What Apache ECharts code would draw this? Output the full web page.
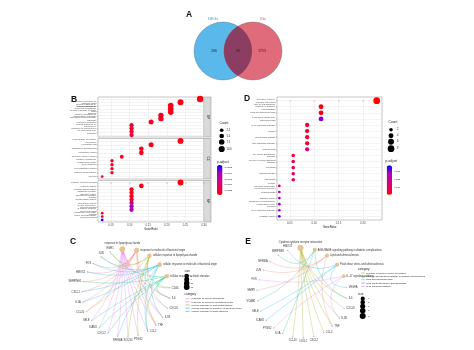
<!DOCTYPE html>
<html>
<head>
<meta charset="utf-8">
<script src="https://cdn.jsdelivr.net/npm/echarts@6/dist/echarts.min.js"></script>
<style>
  html, body { margin: 0; padding: 0; background: #fff; }
  #main { position: absolute; left: 0; top: 0; width: 474px; height: 350px; }
  #venn { position: absolute; left: 0; top: 0; width: 474px; height: 350px; pointer-events: none; }
</style>
</head>
<body>
<div id="main"></div>
<div id="venn"></div>
<script>
// ---------- A: venn ----------
const vennSets = ['DEGs', 'IGs'];
const vennOnly = [206, 1753];
const vennShared = 46;

// ---------- B: GO enrichment (GeneRatio = count / goTotal) ----------
const goTotal = 38;
const bpTerms = ['response to lipopolysaccharide', 'response to molecule of bacterial origin',
  'cellular response to lipopolysaccharide', 'cellular response to molecule of bacterial origin',
  'cellular response to biotic stimulus', 'positive regulation of inflammatory response',
  'regulation of inflammatory response', 'leukocyte migration', 'cellular response to interleukin-1',
  'response to interleukin-1', 'myeloid leukocyte migration', 'regulation of cell-cell adhesion'];
const bpCount = [11, 9, 8, 8, 8, 7, 7, 6, 4, 4, 4, 4];
const bpPadj = [0.0010, 0.0012, 0.0013, 0.0014, 0.0015, 0.0016, 0.0017, 0.0018, 0.0020, 0.0021, 0.0022, 0.0023];
const ccTerms = ['external side of plasma membrane', 'membrane raft', 'membrane microdomain',
  'membrane region', 'secretory granule lumen', 'collagen-containing extracellular matrix',
  'focal adhesion', 'cell-substrate junction', 'platelet alpha granule', 'caveola'];
const ccCount = [9, 6, 5, 5, 3, 2, 2, 2, 2, 1];
const ccPadj = [0.0010, 0.0012, 0.0014, 0.0015, 0.0017, 0.0019, 0.0020, 0.0021, 0.0022, 0.0030];
const mfTerms = ['cytokine receptor binding', 'cytokine activity', 'receptor ligand activity',
  'signaling receptor activator activity', 'chemokine receptor binding', 'growth factor activity',
  'chemokine activity', 'CXCR chemokine receptor binding', 'G protein-coupled receptor binding',
  'interleukin-1 receptor binding', 'tumor necrosis factor receptor binding', 'heparin binding'];
const mfCount = [9, 5, 4, 4, 4, 4, 4, 4, 4, 1, 1, 1];
const mfPadj = [0.0010, 0.0013, 0.0015, 0.0016, 0.0017, 0.0018, 0.0088, 0.0090, 0.0092, 0.0020, 0.0022, 0.0128];
const goTicks = [0.05, 0.10, 0.15, 0.20, 0.25, 0.30];
const goCountLegend = [2.5, 5.0, 7.5, 10.0];
const goPadjLegend = [0.0125, 0.0100, 0.0075, 0.0050, 0.0025];

// ---------- D: KEGG enrichment ----------
const keggTotal = 35;
const keggTerms = ['Cytokine-cytokine receptor interaction', 'AGE-RAGE signaling pathway in diabetic complications',
  'Lipid and atherosclerosis', 'Fluid shear stress and atherosclerosis', 'IL-17 signaling pathway', 'Malaria',
  'Rheumatoid arthritis', 'TNF signaling pathway', 'Legionellosis', 'NF-kappa B signaling pathway',
  'Toll-like receptor signaling pathway', 'Pertussis', 'Chagas disease', 'Amoebiasis',
  'Kaposi sarcoma-associated herpesvirus infection', 'Leishmaniasis', 'Bladder cancer',
  'Epithelial cell signaling in Helicobacter pylori infection', 'HIF-1 signaling pathway', 'Prostate cancer'];
const keggCount = [8, 4, 4, 4, 3, 3, 3, 3, 3, 2, 2, 2, 2, 2, 1, 1, 1, 1, 1, 1];
const keggPadj = [0.0012, 0.0024, 0.0026, 0.0300, 0.0042, 0.0045, 0.0050, 0.0058, 0.0153, 0.0060, 0.0080,
  0.0115, 0.0120, 0.0130, 0.0170, 0.0209, 0.0270, 0.0275, 0.0280, 0.0340];
const keggTicks = [0.05, 0.10, 0.15, 0.20];
const keggCountLegend = [2, 4, 6, 8];
const keggPadjLegend = [0.030, 0.020, 0.010];

// ---------- C: gene-concept network (GO) ----------
const genesC = ['IL6', 'CXCL8', 'IL1B', 'TNF', 'CCL2', 'PTGS2', 'SOCS3', 'NFKBIA', 'CXCL2', 'ICAM1',
  'SELE', 'CCL20', 'IL1A', 'CXCL1', 'SERPINE1', 'HMOX1', 'FOS', 'JUN', 'EGR1', 'CD44'];
const termsC = bpTerms.slice(0, 5);
const countC = bpCount.slice(0, 5);
const setsC = [
  ['IL6', 'CXCL8', 'IL1B', 'TNF', 'CCL2', 'PTGS2', 'SOCS3', 'NFKBIA', 'CXCL2', 'ICAM1', 'SELE'],
  ['IL6', 'IL1B', 'TNF', 'CCL20', 'IL1A', 'CXCL1', 'SERPINE1', 'HMOX1', 'FOS'],
  ['CXCL8', 'TNF', 'PTGS2', 'JUN', 'EGR1', 'CD44', 'CCL20', 'SOCS3'],
  ['IL1B', 'CCL2', 'NFKBIA', 'IL1A', 'FOS', 'JUN', 'CXCL1', 'HMOX1'],
  ['IL6', 'CXCL2', 'ICAM1', 'SELE', 'SERPINE1', 'EGR1', 'CD44', 'CCL2']
];
const sizeLegendC = [8, 9, 10, 11];

// ---------- E: gene-concept network (KEGG) ----------
const genesE = ['IL6', 'CXCL8', 'IL1B', 'TNF', 'CCL2', 'CXCL2', 'CXCL1', 'CCL20', 'IL1A', 'PTGS2',
  'ICAM1', 'SELE', 'VCAM1', 'MMP9', 'FOS', 'JUN', 'NFKBIA', 'SERPINE1', 'HMOX1', 'VEGFA'];
const termsE = keggTerms.slice(0, 5);
const countE = keggCount.slice(0, 5);
const setsE = [
  ['IL6', 'CXCL8', 'IL1B', 'TNF', 'CCL2', 'CXCL2', 'CXCL1', 'CCL20'],
  ['IL6', 'IL1A', 'SERPINE1', 'VCAM1'],
  ['TNF', 'MMP9', 'JUN', 'NFKBIA'],
  ['ICAM1', 'SELE', 'HMOX1', 'VEGFA'],
  ['PTGS2', 'FOS', 'IL1B']
];
const sizeLegendE = [4, 5, 6, 7, 8];

// ---------- styles ----------
const FONT = 'Liberation Sans, Arial, sans-serif';
const TXT = '#4d4d4d';
const hue5 = ['#E76BF3', '#F8766D', '#A3A500', '#00B0F6', '#00BF7D'];
const hue5E = ['#A3A500', '#00BF7D', '#F8766D', '#00B0F6', '#E76BF3'];
const padjColors = ['#ff0000', '#e7005c', '#c9008f', '#a100c6', '#0000ff'];
const goSize = c => 1.1 + 1.6 * Math.sqrt(c);
const keggSize = c => 0.5 + 2.19 * Math.sqrt(c);
const cnetSizeC = c => 1.6 + 0.38 * c;
const cnetSizeE = c => 2.4 + 0.45 * c;

// ================= panels B-E =================
const chart = echarts.init(document.getElementById('main'));

function ratioAxis(gi, min, max, ticks, show, name) {
  return {
    type: 'value', gridIndex: gi, min: min, max: max,
    axisLine: { show: false },
    axisTick: { show: show, length: 1.2, lineStyle: { color: '#555', width: 0.4 }, customValues: ticks },
    axisLabel: { show: show, fontSize: 2.8, color: TXT, margin: 1.5, fontFamily: FONT,
      customValues: ticks, formatter: v => v.toFixed(2) },
    splitLine: { show: true, lineStyle: { color: '#e6e6e6', width: 0.5 } },
    name: name || '', nameLocation: 'middle', nameGap: 5.5,
    nameTextStyle: { fontSize: 2.8, color: '#222', fontFamily: FONT }
  };
}

function termAxis(gi, terms) {
  const idx = terms.map((t, i) => i);
  return {
    type: 'value', gridIndex: gi, inverse: true, min: -0.6, max: terms.length - 0.4,
    axisLine: { show: false },
    axisTick: { show: true, length: 1, lineStyle: { color: '#555', width: 0.4 }, customValues: idx },
    axisLabel: { show: true, fontSize: 2.3, lineHeight: 2.5, color: TXT, margin: 1.5, width: 27,
      overflow: 'break', fontFamily: FONT, customValues: idx, formatter: v => terms[v] || '' },
    splitLine: { show: true, lineStyle: { color: '#e6e6e6', width: 0.5 } }
  };
}

function dotSeries(ai, counts, padj, total, sizeFn) {
  return {
    type: 'scatter', xAxisIndex: ai, yAxisIndex: ai, silent: true,
    data: counts.map((c, i) => [c / total, i, c, padj[i]]),
    symbolSize: v => sizeFn(v[2]),
    itemStyle: { opacity: 1 }
  };
}

function cnetNodes(genes, terms, counts, sizeFn) {
  // genes round the ring, the terms sit near the upper right
  const ring = genes.slice(0, genes.length - 1).concat(terms, genes.slice(genes.length - 1));
  const n = ring.length;
  return ring.map((name, i) => {
    const a = (i + 0.5) / n * Math.PI * 2;
    const cx = Math.cos(a), sy = Math.sin(a);
    let pos = cx > 0.35 ? 'right' : cx < -0.35 ? 'left' : (sy > 0 ? 'bottom' : 'top');
    const ti = terms.indexOf(name);
    if (ti >= 0) {
      return { name: name, symbolSize: sizeFn(counts[ti]), itemStyle: { color: '#E5C494' },
        label: { position: pos === 'top' ? 'top' : 'right', distance: 1 } };
    }
    return { name: name, symbolSize: 1.3, itemStyle: { color: '#B3B3B3' }, label: { position: pos, distance: 1.5 } };
  });
}

function cnetLinks(terms, sets, colors) {
  const out = [];
  sets.forEach((gs, ti) => gs.forEach(g => out.push({ source: terms[ti], target: g, lineStyle: { color: colors[ti] } })));
  return out;
}

function cnetSeries(box, genes, terms, counts, sets, colors, sizeFn) {
  return {
    type: 'graph', layout: 'circular', silent: true, roam: false,
    left: box[0], top: box[1], width: box[2], height: box[3],
    circular: { rotateLabel: false },
    data: cnetNodes(genes, terms, counts, sizeFn),
    links: cnetLinks(terms, sets, colors),
    label: { show: true, fontSize: 2.6, color: '#333', fontFamily: FONT },
    lineStyle: { width: 0.5, opacity: 0.55, curveness: 0.18 },
    emphasis: { disabled: true }
  };
}

// ---------- legends and decorations ----------
const deco = [];
function t(x, y, s, opt) {
  deco.push(Object.assign({ type: 'text', x: x, y: y, silent: true,
    style: Object.assign({ text: s, fontSize: 3, fill: '#222', fontFamily: FONT, verticalAlign: 'middle' }, opt || {}) }));
}
[['A', 189, 15], ['B', 74, 100], ['D', 247, 99], ['C', 73, 242], ['E', 248, 242]].forEach(p =>
  t(p[1], p[2], p[0], { fontSize: 8.5, fontWeight: 'bold', fill: '#111', align: 'center' }));
// venn set names
t(213, 19, vennSets[0], { fontSize: 4, fill: '#3d9fd6', align: 'center' });
t(263, 19, vennSets[1], { fontSize: 4, fill: '#d9596c', align: 'center' });

// facet strips of B
[[97, 40, 'BP'], [138.5, 40.5, 'CC'], [180.5, 41.5, 'MF']].forEach(s => {
  deco.push({ type: 'rect', silent: true, shape: { x: 204, y: s[0], width: 7, height: s[1] },
    style: { fill: '#d9d9d9', stroke: '#8c8c8c', lineWidth: 0.5 } });
  deco.push({ type: 'text', silent: true, x: 207.5, y: s[0] + s[1] / 2, rotation: -Math.PI / 2,
    style: { text: s[2], fontSize: 3, fill: '#1a1a1a', fontFamily: FONT, align: 'center', verticalAlign: 'middle' } });
});

// B legend
t(219.5, 123, 'Count', { fontSize: 3.3 });
goCountLegend.forEach((v, i) => {
  const y = [130.3, 136, 142, 149][i];
  deco.push({ type: 'circle', silent: true, shape: { cx: 221.7, cy: y, r: goSize(v) / 2 }, style: { fill: '#000' } });
  t(226.5, y, v.toFixed(1), { fontSize: 2.6 });
});
t(217, 161.7, 'p.adjust', { fontSize: 3.3 });
const bMin = 0.0005, bMax = 0.0135;
goPadjLegend.forEach(v => t(224.5, 165 + (bMax - v) / (bMax - bMin) * 30, v.toFixed(4), { fontSize: 2.5 }));

// D legend
t(388.5, 122.3, 'Count', { fontSize: 3.3 });
keggCountLegend.forEach((v, i) => {
  const y = [129.7, 135.7, 141.7, 148.7][i];
  deco.push({ type: 'circle', silent: true, shape: { cx: 391, cy: y, r: keggSize(v) / 2 }, style: { fill: '#000' } });
  t(397, y, String(v), { fontSize: 2.6 });
});
t(385.5, 161.3, 'p.adjust', { fontSize: 3.3 });
const dMin = 0.0005, dMax = 0.0375;
keggPadjLegend.forEach(v => t(394, 165.3 + (dMax - v) / (dMax - dMin) * 29.5, v.toFixed(3), { fontSize: 2.5 }));

// C legend
t(184.5, 271, 'size', { fontSize: 3 });
sizeLegendC.forEach((v, i) => {
  const y = [276, 279.5, 283.2, 287][i];
  deco.push({ type: 'circle', silent: true, shape: { cx: 186.7, cy: y, r: cnetSizeC(v) / 2 }, style: { fill: '#000' } });
  t(190.5, y, String(v), { fontSize: 2.4 });
});
t(184.5, 294.3, 'category', { fontSize: 3 });
termsC.forEach((s, i) => {
  const y = 298.7 + i * 3.15;
  deco.push({ type: 'line', silent: true, shape: { x1: 185.5, y1: y, x2: 189.5, y2: y }, style: { stroke: hue5[i], lineWidth: 0.6 } });
  t(191.5, y, s, { fontSize: 2.4 });
});

// E legend
t(358, 268.7, 'category', { fontSize: 3 });
termsE.forEach((s, i) => {
  const y = 273 + i * 3.35;
  deco.push({ type: 'line', silent: true, shape: { x1: 361.3, y1: y, x2: 364.7, y2: y }, style: { stroke: hue5E[i], lineWidth: 0.6 } });
  t(366, y, s, { fontSize: 2.4 });
});
t(358, 294.3, 'size', { fontSize: 3 });
sizeLegendE.forEach((v, i) => {
  const y = [298.7, 302.2, 306.2, 310.7, 316][i];
  deco.push({ type: 'circle', silent: true, shape: { cx: 362.7, cy: y, r: cnetSizeE(v) / 2 }, style: { fill: '#000' } });
  t(368, y, String(v), { fontSize: 2.4 });
});

const facetGrid = (top, height) => ({ left: 98, top: top, width: 106, height: height, show: true,
  borderColor: '#8c8c8c', borderWidth: 0.5, backgroundColor: '#fff' });

chart.setOption({
  animation: false,
  backgroundColor: '#fff',
  textStyle: { fontFamily: FONT },
  grid: [
    facetGrid(97, 40), facetGrid(138.5, 40.5), facetGrid(180.5, 41.5),
    { left: 277, top: 97, width: 105, height: 123, show: true, borderColor: '#8c8c8c', borderWidth: 0.5, backgroundColor: '#fff' }
  ],
  xAxis: [
    ratioAxis(0, 0.015, 0.30, goTicks, false),
    ratioAxis(1, 0.015, 0.30, goTicks, false),
    ratioAxis(2, 0.015, 0.30, goTicks, true, 'GeneRatio'),
    ratioAxis(3, 0.0238, 0.2394, keggTicks, true, 'GeneRatio')
  ],
  yAxis: [termAxis(0, bpTerms), termAxis(1, ccTerms), termAxis(2, mfTerms), termAxis(3, keggTerms)],
  visualMap: [
    { type: 'continuous', seriesIndex: [0, 1, 2], dimension: 3, min: bMin, max: bMax,
      inRange: { color: padjColors }, left: 217, top: 165, itemWidth: 5.5, itemHeight: 30,
      calculable: false, padding: 0, text: null, textStyle: { fontSize: 1, color: 'transparent' } },
    { type: 'continuous', seriesIndex: [3], dimension: 3, min: dMin, max: dMax,
      inRange: { color: padjColors }, left: 386.7, top: 165.3, itemWidth: 5.3, itemHeight: 29.5,
      calculable: false, padding: 0, text: null, textStyle: { fontSize: 1, color: 'transparent' } }
  ],
  series: [
    dotSeries(0, bpCount, bpPadj, goTotal, goSize),
    dotSeries(1, ccCount, ccPadj, goTotal, goSize),
    dotSeries(2, mfCount, mfPadj, goTotal, goSize),
    dotSeries(3, keggCount, keggPadj, keggTotal, keggSize),
    cnetSeries([82, 249, 88, 88], genesC, termsC, countC, setsC, hue5, cnetSizeC),
    cnetSeries([257, 248, 90, 90], genesE, termsE, countE, setsE, hue5E, cnetSizeE)
  ],
  graphic: deco
});

// ================= venn (own overlay chart, drawn last) =================
const VENN = { cx: [53, 83], cy: 41, r: 29 };
const vtxt = (x, y, s, size, color) => ({ type: 'text', z2: 50, style: { x: x, y: y, text: s, fontSize: size,
  fill: color, fontFamily: FONT, align: 'center', verticalAlign: 'middle' } });

const vennCircles = {
  type: 'custom', xAxisIndex: 0, yAxisIndex: 0, silent: true, clip: false, z: 2,
  data: [[0, vennOnly[0]], [1, vennOnly[1]]],
  renderItem: function (params, api) {
    const k = params.dataIndex;
    const c = api.coord([VENN.cx[k], VENN.cy]);
    const r = api.size([VENN.r, 0])[0];
    const fill = k === 0 ? '#5bb8ea' : '#e06c7b';
    const dx = k === 0 ? -9 : 9;
    return { type: 'group', children: [
      { type: 'circle', shape: { cx: c[0], cy: c[1], r: r }, style: { fill: fill, stroke: 'rgba(60,60,60,0.55)', lineWidth: 0.5 } },
      vtxt(c[0] + dx, c[1] + 0.5, String(api.value(1)), 3.4, '#222')
    ] };
  }
};
const vennLens = {
  type: 'custom', xAxisIndex: 0, yAxisIndex: 0, silent: true, clip: false, z: 5,
  data: [[1, vennShared]],
  renderItem: function (params, api) {
    const c0 = api.coord([VENN.cx[0], VENN.cy]);
    const c1 = api.coord([VENN.cx[1], VENN.cy]);
    const r = api.size([VENN.r, 0])[0];
    const d = c1[0] - c0[0];
    const al = Math.acos(d / 2 / r);
    const pts = [];
    for (let i = 0; i <= 30; i++) { const a = -al + 2 * al * i / 30; pts.push([c0[0] + r * Math.cos(a), c0[1] + r * Math.sin(a)]); }
    for (let i = 0; i <= 30; i++) { const a = Math.PI - al + 2 * al * i / 30; pts.push([c1[0] + r * Math.cos(a), c1[1] + r * Math.sin(a)]); }
    const mx = (c0[0] + c1[0]) / 2;
    return { type: 'group', children: [
      { type: 'polygon', shape: { points: pts }, style: { fill: '#8c3d62' } },
      { type: 'rect', shape: { x: 0, y: 0, width: 1, height: 1 }, style: { fill: '#ffffff' } },
      vtxt(mx, c0[1] + 0.5, String(api.value(1)), 3.4, '#222')
    ] };
  }
};
const vennChart = echarts.init(document.getElementById('venn'));
vennChart.setOption({
  animation: false,
  grid: [{ left: 170, top: 10, width: 130, height: 80 }],
  xAxis: [{ type: 'value', gridIndex: 0, min: 0, max: 130, show: false }],
  yAxis: [{ type: 'value', gridIndex: 0, min: 0, max: 80, inverse: true, show: false }],
  series: [vennCircles, vennLens]
});
</script>
</body>
</html>
